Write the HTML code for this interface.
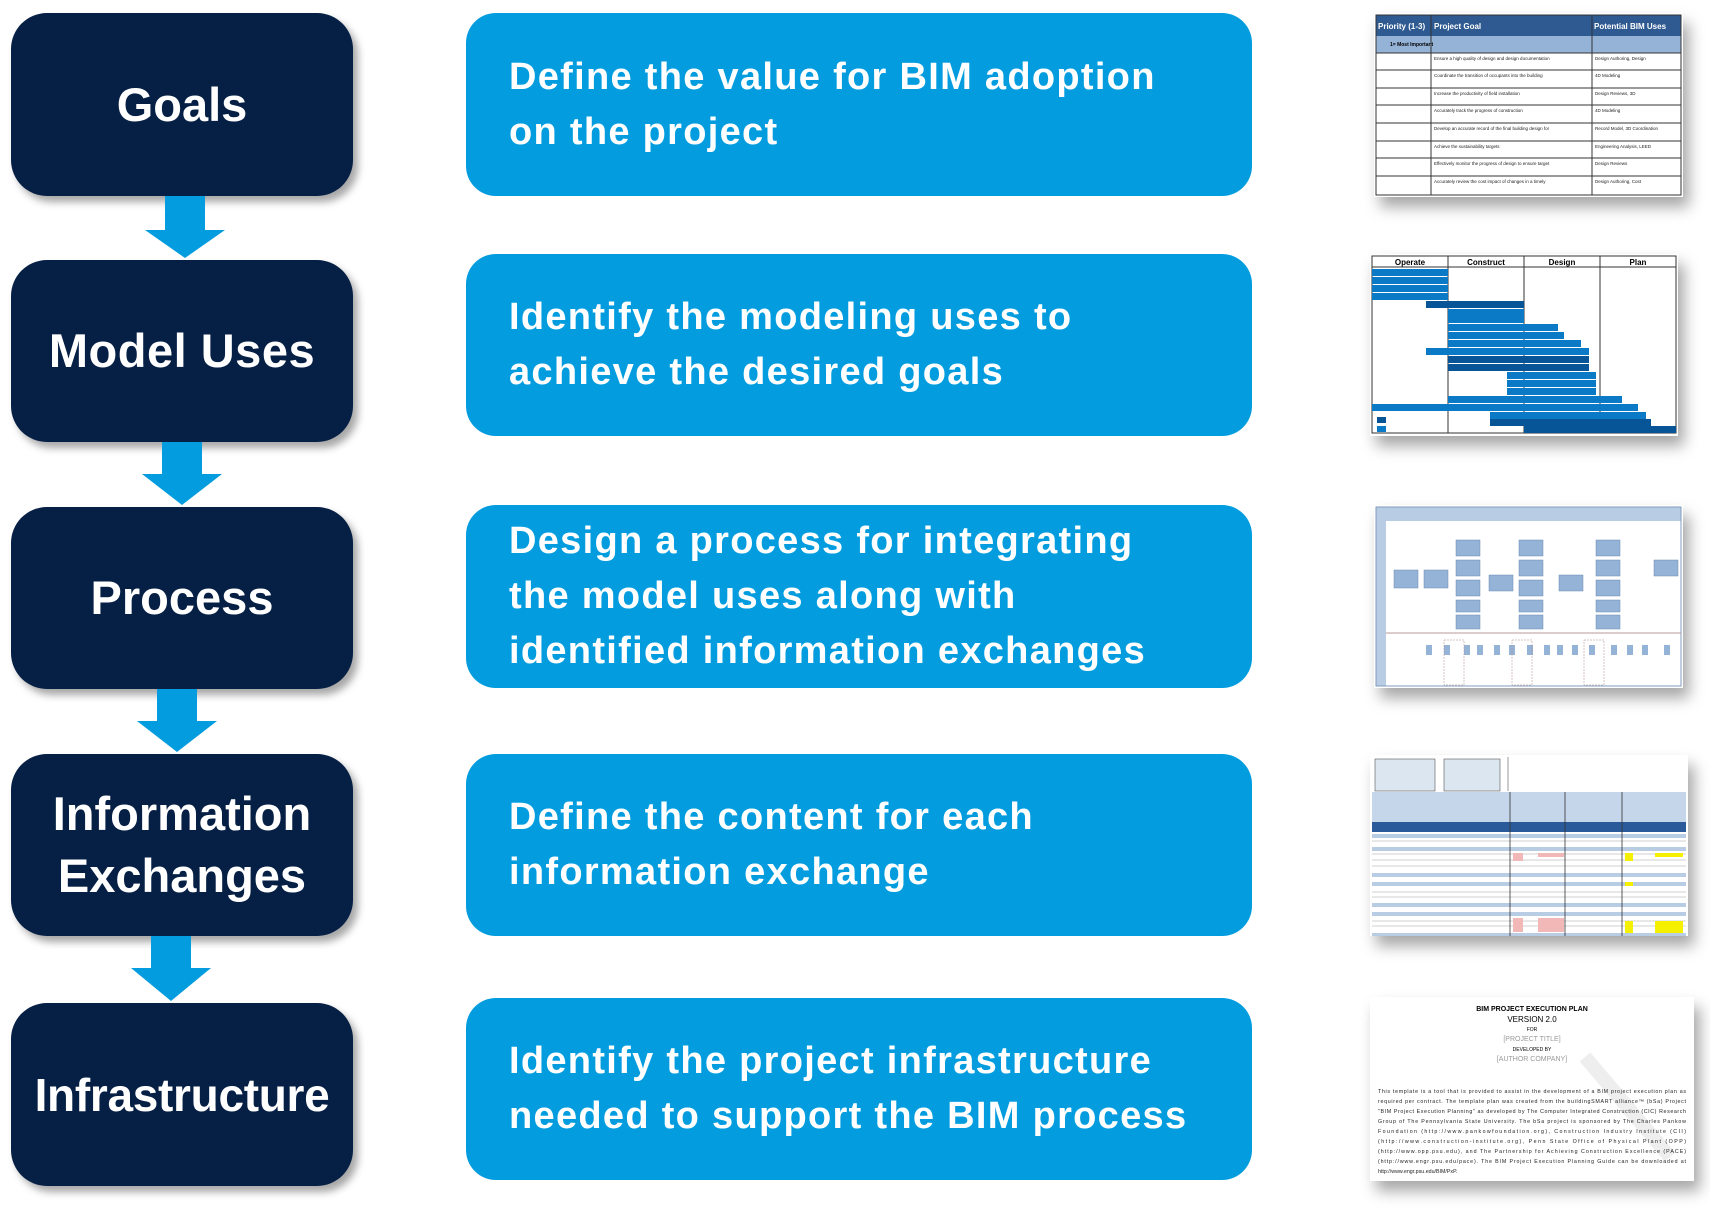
<!DOCTYPE html>
<html><head><meta charset="utf-8"><style>
html,body{margin:0;padding:0;background:#fff;}
body{width:1710px;height:1208px;position:relative;overflow:hidden;font-family:"Liberation Sans",sans-serif;}
.l{position:absolute;left:11px;width:342px;background:#061f45;border-radius:36px;box-shadow:5px 6px 8px rgba(0,0,0,0.35);color:#fff;font-weight:bold;font-size:47px;letter-spacing:0px;display:flex;align-items:center;justify-content:center;text-align:center;line-height:62px;}
.b{position:absolute;left:466px;width:786px;background:#039ddf;border-radius:30px;color:#fff;font-weight:bold;font-size:38px;letter-spacing:1.3px;line-height:55px;display:flex;align-items:center;box-sizing:border-box;padding-left:43px;}
.t{position:absolute;background:#fff;box-shadow:6px 10px 14px rgba(0,0,0,0.35);}
svg{position:absolute;left:0;top:0;}
</style></head><body>
<div class="l" style="top:13px;height:183px">Goals</div>
<div class="l" style="top:260px;height:182px;letter-spacing:0.5px">Model Uses</div>
<div class="l" style="top:507px;height:182px">Process</div>
<div class="l" style="top:754px;height:182px">Information<br>Exchanges</div>
<div class="l" style="top:1003px;height:183px;font-size:46px;letter-spacing:-0.3px">Infrastructure</div>

<svg width="1710" height="1208">
<g fill="#039ddf">
<polygon points="165,196 205,196 205,230 225,230 185,258 145,230 165,230"/>
<polygon points="162,442 202,442 202,474 222,474 182,505 142,474 162,474"/>
<polygon points="157,689 197,689 197,721 217,721 177,752 137,721 157,721"/>
<polygon points="151,936 191,936 191,968 211,968 171,1001 131,968 151,968"/>
</g>
</svg>

<div class="b" style="top:13px;height:183px">Define the value for BIM adoption<br>on the project</div>
<div class="b" style="top:254px;height:182px">Identify the modeling uses to<br>achieve the desired goals</div>
<div class="b" style="top:505px;height:183px">Design a process for integrating<br>the model uses along with<br>identified information exchanges</div>
<div class="b" style="top:754px;height:182px">Define the content for each<br>information exchange</div>
<div class="b" style="top:998px;height:182px">Identify the project infrastructure<br>needed to support the BIM process</div>

<!-- thumb 1 -->
<div class="t" style="left:1374px;top:13px;width:309px;height:184px">
<svg width="309" height="184" style="font-family:'Liberation Sans',sans-serif">
<rect x="2" y="2" width="305" height="21" fill="#2f5a91"/>
<rect x="2" y="23" width="305" height="17" fill="#95b3d7"/>
<text x="4" y="16" font-size="8" font-weight="bold" fill="#fff">Priority (1-3)</text>
<text x="60" y="16" font-size="8" font-weight="bold" fill="#fff">Project Goal</text>
<text x="220" y="16" font-size="8" font-weight="bold" fill="#fff">Potential BIM Uses</text>
<text x="16" y="33" font-size="5" font-weight="bold">1= Most Important</text>
<g stroke="#333" stroke-width="1" fill="none"><rect x="2" y="2" width="305" height="180"/>
<line x1="57" y1="2" x2="57" y2="182"/><line x1="218" y1="2" x2="218" y2="182"/>
<line x1="2" y1="40" x2="307" y2="40"/><line x1="2" y1="57" x2="307" y2="57"/><line x1="2" y1="75" x2="307" y2="75"/><line x1="2" y1="92" x2="307" y2="92"/><line x1="2" y1="110" x2="307" y2="110"/><line x1="2" y1="128" x2="307" y2="128"/><line x1="2" y1="145" x2="307" y2="145"/><line x1="2" y1="163" x2="307" y2="163"/></g>
<g font-size="4.5" fill="#222">
<text x="60" y="47">Ensure a high quality of design and design documentation</text><text x="221" y="47">Design Authoring, Design</text>
<text x="60" y="64">Coordinate the transition of occupants into the building</text><text x="221" y="64">4D Modeling</text>
<text x="60" y="82">Increase the productivity of field installation</text><text x="221" y="82">Design Reviews, 3D</text>
<text x="60" y="99">Accurately track the progress of construction</text><text x="221" y="99">4D Modeling</text>
<text x="60" y="117">Develop an accurate record of the final building design for</text><text x="221" y="117">Record Model, 3D Coordination</text>
<text x="60" y="135">Achieve the sustainability targets</text><text x="221" y="135">Engineering Analysis, LEED</text>
<text x="60" y="152">Effectively monitor the progress of design to ensure target</text><text x="221" y="152">Design Reviews</text>
<text x="60" y="170">Accurately review the cost impact of changes in a timely</text><text x="221" y="170">Design Authoring, Cost</text>
</g></svg></div>

<!-- thumb 2 -->
<div class="t" style="left:1370px;top:254px;width:308px;height:182px">
<svg width="308" height="182" style="font-family:'Liberation Sans',sans-serif">
<g stroke="#333" fill="none"><rect x="2" y="2" width="304" height="177"/><line x1="78" y1="2" x2="78" y2="179"/><line x1="154" y1="2" x2="154" y2="179"/><line x1="230" y1="2" x2="230" y2="179"/><line x1="2" y1="13" x2="306" y2="13"/></g>
<g font-size="8" font-weight="bold" text-anchor="middle"><text x="40" y="11">Operate</text><text x="116" y="11">Construct</text><text x="192" y="11">Design</text><text x="268" y="11">Plan</text></g>
<g fill="#0a79c6">
<rect x="2" y="15" width="76" height="7"/><rect x="2" y="23" width="76" height="7"/><rect x="2" y="31" width="76" height="7"/><rect x="2" y="39" width="76" height="7"/>
<rect x="56" y="47" width="98" height="7" fill="#075497"/>
<rect x="78" y="55" width="76" height="7"/><rect x="78" y="62" width="76" height="7"/>
<rect x="78" y="70" width="110" height="7"/><rect x="78" y="78" width="116" height="7"/><rect x="78" y="86" width="133" height="7"/>
<rect x="56" y="94" width="163" height="7"/>
<rect x="78" y="102" width="141" height="7" fill="#075497"/><rect x="78" y="110" width="141" height="7" fill="#075497"/>
<rect x="137" y="118" width="89" height="7"/><rect x="137" y="126" width="89" height="7"/><rect x="137" y="134" width="89" height="7"/>
<rect x="78" y="142" width="174" height="7"/>
<rect x="2" y="150" width="266" height="7"/>
<rect x="120" y="158" width="156" height="7"/><rect x="120" y="165" width="161" height="7" fill="#075497"/>
<rect x="154" y="172" width="152" height="7" fill="#075497"/>
<rect x="7" y="163" width="9" height="6" fill="#075497"/><rect x="7" y="172" width="9" height="6"/>
</g></svg></div>

<!-- thumb 3 -->
<div class="t" style="left:1374px;top:505px;width:309px;height:183px">
<svg width="309" height="183">
<rect x="2" y="2" width="305" height="14" fill="#b8cce4"/>
<rect x="2" y="16" width="10" height="165" fill="#b8cce4"/>
<rect x="2" y="2" width="305" height="179" fill="none" stroke="#7f9bbd"/>
<line x1="12" y1="128" x2="307" y2="128" stroke="#b99" stroke-width="1"/>
<g fill="#95b3d7" stroke="#6b8ab0" stroke-width="0.5">
<rect x="20" y="65" width="24" height="18"/><rect x="50" y="65" width="24" height="18"/>
<rect x="82" y="35" width="24" height="16"/><rect x="82" y="55" width="24" height="16"/><rect x="82" y="75" width="24" height="16"/><rect x="82" y="95" width="24" height="12"/><rect x="82" y="110" width="24" height="14"/>
<rect x="115" y="70" width="24" height="16"/>
<rect x="145" y="35" width="24" height="16"/><rect x="145" y="55" width="24" height="16"/><rect x="145" y="75" width="24" height="16"/><rect x="145" y="95" width="24" height="12"/><rect x="145" y="110" width="24" height="14"/>
<rect x="185" y="70" width="24" height="16"/>
<rect x="222" y="35" width="24" height="16"/><rect x="222" y="55" width="24" height="16"/><rect x="222" y="75" width="24" height="16"/><rect x="222" y="95" width="24" height="12"/><rect x="222" y="110" width="24" height="14"/>
<rect x="280" y="55" width="24" height="16"/>
</g>
<g fill="#95b3d7"><rect x="52" y="140" width="6" height="10"/><rect x="70" y="140" width="6" height="10"/><rect x="90" y="140" width="6" height="10"/><rect x="103" y="140" width="6" height="10"/><rect x="120" y="140" width="6" height="10"/><rect x="135" y="140" width="6" height="10"/><rect x="153" y="140" width="6" height="10"/><rect x="170" y="140" width="6" height="10"/><rect x="183" y="140" width="6" height="10"/><rect x="198" y="140" width="6" height="10"/><rect x="215" y="140" width="6" height="10"/><rect x="237" y="140" width="6" height="10"/><rect x="253" y="140" width="6" height="10"/><rect x="268" y="140" width="6" height="10"/><rect x="290" y="140" width="6" height="10"/></g>
<g fill="none" stroke="#a88" stroke-width="0.5"><rect x="70" y="135" width="20" height="45" stroke-dasharray="2,1"/><rect x="138" y="135" width="20" height="45" stroke-dasharray="2,1"/><rect x="210" y="135" width="20" height="45" stroke-dasharray="2,1"/></g>
</svg></div>

<!-- thumb 4 -->
<div class="t" style="left:1370px;top:755px;width:318px;height:181px">
<svg width="318" height="181">
<rect x="5" y="4" width="60" height="32" fill="#dce6f1" stroke="#555" stroke-width="0.6"/>
<rect x="74" y="4" width="56" height="32" fill="#dce6f1" stroke="#555" stroke-width="0.6"/>
<line x1="138" y1="2" x2="138" y2="36" stroke="#555" stroke-width="0.6"/>
<rect x="2" y="37" width="314" height="30" fill="#c5d5ea"/>
<rect x="2" y="67" width="314" height="10" fill="#2a5a9a"/>
<g fill="#b8cce4"><rect x="2" y="79" width="314" height="4"/><rect x="2" y="92" width="314" height="4"/><rect x="2" y="118" width="314" height="4"/><rect x="2" y="127" width="314" height="4"/><rect x="2" y="148" width="314" height="4"/><rect x="2" y="157" width="314" height="4"/><rect x="2" y="178" width="314" height="3"/></g>
<g stroke="#888" stroke-width="0.4"><line x1="2" y1="86" x2="316" y2="86"/><line x1="2" y1="99" x2="316" y2="99"/><line x1="2" y1="105" x2="316" y2="105"/><line x1="2" y1="111" x2="316" y2="111"/><line x1="2" y1="137" x2="316" y2="137"/><line x1="2" y1="142" x2="316" y2="142"/><line x1="2" y1="166" x2="316" y2="166"/><line x1="2" y1="171" x2="316" y2="171"/></g>
<g stroke="#333" stroke-width="0.8"><line x1="140" y1="37" x2="140" y2="181"/><line x1="195" y1="37" x2="195" y2="181"/><line x1="252" y1="37" x2="252" y2="181"/></g>
<g fill="#f2b8b8"><rect x="143" y="98" width="10" height="8"/><rect x="168" y="98" width="26" height="4"/><rect x="143" y="163" width="10" height="14"/><rect x="168" y="163" width="26" height="14"/></g>
<g fill="#f5f000"><rect x="255" y="98" width="8" height="8"/><rect x="285" y="98" width="28" height="4"/><rect x="255" y="166" width="8" height="12"/><rect x="285" y="166" width="28" height="12"/><rect x="255" y="127" width="8" height="4"/></g>
</svg></div>

<!-- thumb 5 -->
<div class="t" style="left:1370px;top:997px;width:324px;height:184px">
<svg width="324" height="184" style="font-family:'Liberation Sans',sans-serif">
<path d="M215,60 L300,160" stroke="#eee" stroke-width="14"/>
<g text-anchor="middle"><text x="162" y="14" font-size="7" font-weight="bold">BIM PROJECT EXECUTION PLAN</text>
<text x="162" y="25" font-size="8">VERSION 2.0</text>
<text x="162" y="34" font-size="5">FOR</text>
<text x="162" y="44" font-size="7" fill="#999">[PROJECT TITLE]</text>
<text x="162" y="54" font-size="5">DEVELOPED BY</text>
<text x="162" y="64" font-size="7" fill="#999">[AUTHOR COMPANY]</text></g>
<g font-size="5.3" fill="#222">
<text x="8" y="96" textLength="308">This template is a tool that is provided to assist in the development of a BIM project execution plan as</text>
<text x="8" y="106" textLength="308">required per contract. The template plan was created from the buildingSMART alliance™ (bSa) Project</text>
<text x="8" y="116" textLength="308">"BIM Project Execution Planning" as developed by The Computer Integrated Construction (CIC) Research</text>
<text x="8" y="126" textLength="308">Group of The Pennsylvania State University. The bSa project is sponsored by The Charles Pankow</text>
<text x="8" y="136" textLength="308">Foundation (http://www.pankowfoundation.org), Construction Industry Institute (CII)</text>
<text x="8" y="146" textLength="308">(http://www.construction-institute.org), Penn State Office of Physical Plant (OPP)</text>
<text x="8" y="156" textLength="308">(http://www.opp.psu.edu), and The Partnership for Achieving Construction Excellence (PACE)</text>
<text x="8" y="166" textLength="308">(http://www.engr.psu.edu/pace). The BIM Project Execution Planning Guide can be downloaded at</text>
<text x="8" y="176">http://www.engr.psu.edu/BIM/PxP.</text>
</g></svg></div>
</body></html>
